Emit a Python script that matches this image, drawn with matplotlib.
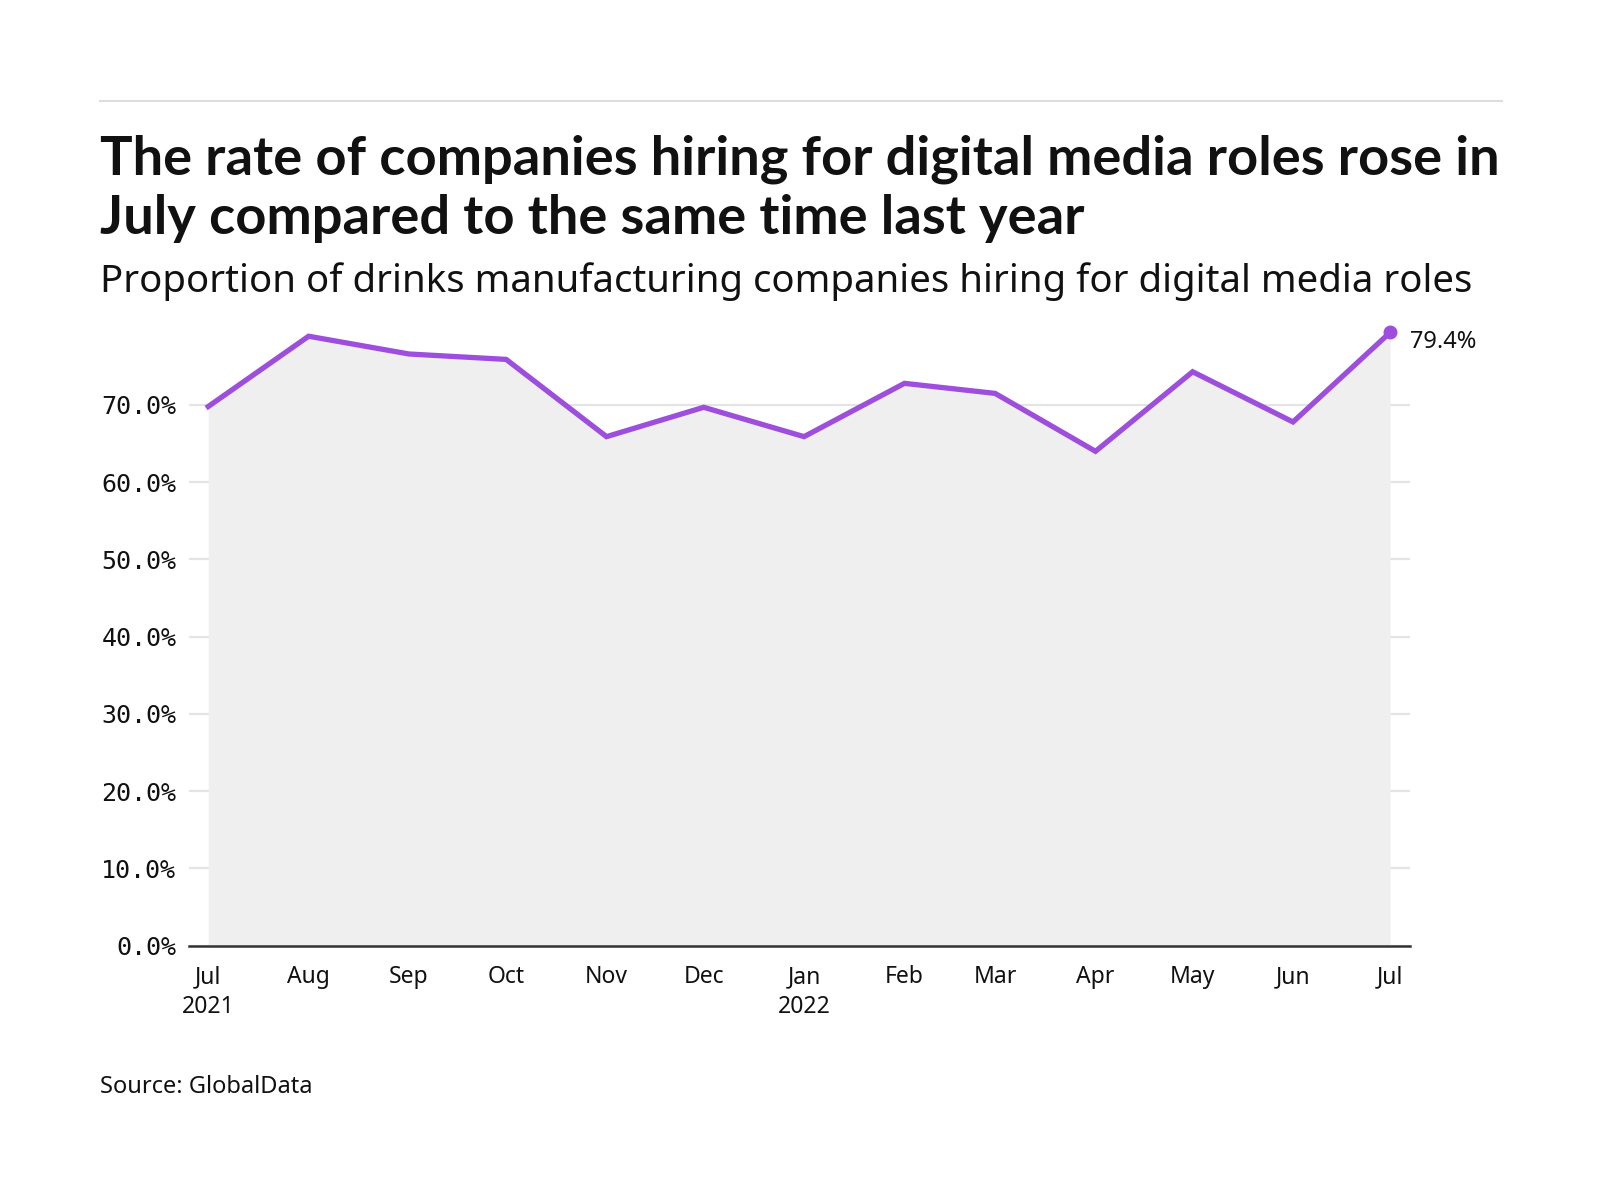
import datetime as dt
import matplotlib
matplotlib.use("Agg")
import matplotlib.pyplot as plt
import matplotlib.dates as mdates
from matplotlib.ticker import FuncFormatter, FixedLocator

# data
months = ["2021-07", "2021-08", "2021-09", "2021-10", "2021-11", "2021-12",
          "2022-01", "2022-02", "2022-03", "2022-04", "2022-05", "2022-06", "2022-07"]
share = [69.8, 78.9, 76.6, 75.9, 65.9, 69.7, 65.9, 72.8, 71.5, 64.0, 74.3, 67.8, 79.4]
tick_labels = ["Jul\n2021", "Aug", "Sep", "Oct", "Nov", "Dec", "Jan\n2022",
               "Feb", "Mar", "Apr", "May", "Jun", "Jul"]
y_ticks = [0, 10, 20, 30, 40, 50, 60, 70]

title = ("The rate of companies hiring for digital media roles rose in\n"
         "July compared to the same time last year")
subtitle = "Proportion of drinks manufacturing companies hiring for digital media roles"
source = "Source: GlobalData"

PURPLE = "#9d4edd"
SANS = ["Noto Sans", "DejaVu Sans"]
BOLD = ["Lato", "Roboto", "DejaVu Sans"]
MONO = ["DejaVu Sans Mono"]

dates = [dt.datetime.strptime(m, "%Y-%m") for m in months]

fig = plt.figure(figsize=(16, 12), dpi=100)
ax = fig.add_axes([0.118, 0.2119, 0.763, 0.515])

ax.fill_between(dates, share, 0, color="#efefef", linewidth=0, zorder=1)
ax.plot(dates, share, color=PURPLE, lw=3.8, solid_joinstyle="miter", zorder=3)
ax.plot(dates[-1], share[-1], "o", color=PURPLE, ms=9, zorder=4, clip_on=False)
ax.annotate(f"{share[-1]:.1f}%", (dates[-1], share[-1]), xytext=(14, -7),
            textcoords="offset points", ha="left", va="center",
            fontsize=17, family=SANS, color="#111111")

pad = dt.timedelta(days=6)
ax.set_xlim(dates[0] - pad, dates[-1] + pad)
ax.set_ylim(0, 80)

ax.xaxis.set_major_locator(FixedLocator(mdates.date2num(dates)))
ax.set_xticklabels(tick_labels)
ax.set_yticks(y_ticks)
ax.yaxis.set_major_formatter(FuncFormatter(lambda v, p: f"{v:.1f}%"))

for lab in ax.get_xticklabels():
    lab.set_fontfamily(SANS)
    lab.set_fontsize(16.5)
    lab.set_linespacing(1.35)
    lab.set_verticalalignment("top")
for lab in ax.get_yticklabels():
    lab.set_fontfamily(MONO)
    lab.set_fontsize(18)
ax.tick_params(axis="both", length=0, colors="#111111")
ax.tick_params(axis="x", pad=14)
ax.tick_params(axis="y", pad=9)

ax.grid(axis="y", color="#e4e4e4", lw=1.6, zorder=0)
ax.set_axisbelow(True)
for s in ["top", "right", "left"]:
    ax.spines[s].set_visible(False)
ax.spines["bottom"].set_color("#333333")
ax.spines["bottom"].set_linewidth(1.8)
ax.spines["bottom"].set_zorder(5)

# header and footer
fig.add_artist(plt.Line2D([0.0625, 0.939], [1 - 100.7 / 1200] * 2,
                          color="#dddddd", lw=1.5))
t1 = fig.text(0.0625, 1 - 174 / 1200, title.split("\n")[0], ha="left", va="baseline",
              fontsize=36, fontweight="bold", family=BOLD, color="#111111")
t2 = fig.text(0.0625, 1 - 234 / 1200, title.split("\n")[1], ha="left", va="baseline",
              fontsize=36, fontweight="bold", family=BOLD, color="#111111")
# fit the first title line to the width it has in the reference (~1396 px)
r = fig.canvas.get_renderer()
w = t1.get_window_extent(r).width
size = 36 * 1396 / w
t1.set_fontsize(size)
t2.set_fontsize(size)

fig.text(0.0625, 1 - 292 / 1200, subtitle, ha="left", va="baseline", fontsize=27.6,
         family=SANS, color="#111111")
fig.text(0.0625, 1 - 1093 / 1200, source, ha="left", va="baseline", fontsize=17,
         family=SANS, color="#111111")

fig.savefig("out.png", dpi=100, facecolor="white")
